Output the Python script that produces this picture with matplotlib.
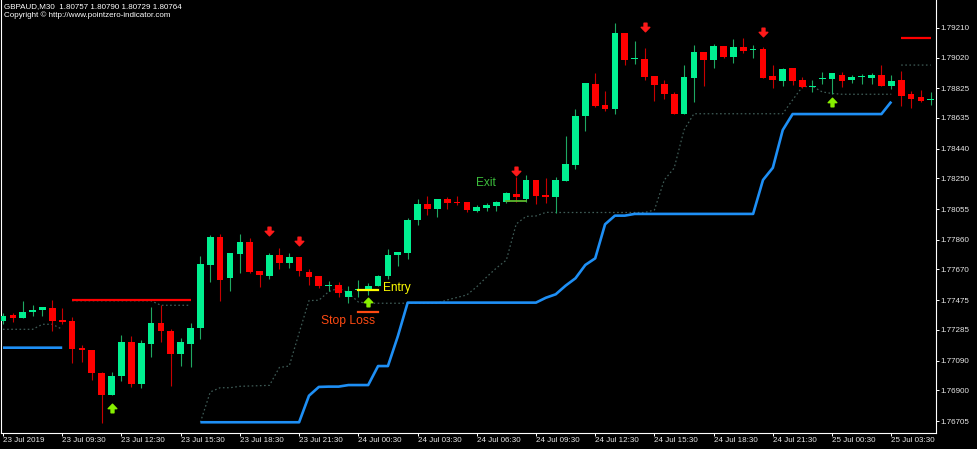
import matplotlib
matplotlib.use('Agg')
import matplotlib.pyplot as plt
import numpy as np
from matplotlib.path import Path

plt.rcParams['font.family'] = ['Liberation Sans', 'DejaVu Sans']

nan = float('nan')

# ---------------- data (GBPAUD M30) ----------------
time_labels = ['23 Jul 2019', '23 Jul 09:30', '23 Jul 12:30', '23 Jul 15:30',
               '23 Jul 18:30', '23 Jul 21:30', '24 Jul 00:30', '24 Jul 03:30',
               '24 Jul 06:30', '24 Jul 09:30', '24 Jul 12:30', '24 Jul 15:30',
               '24 Jul 18:30', '24 Jul 21:30', '25 Jul 00:30', '25 Jul 03:30']
label_every = 6

price_ticks = [1.79210, 1.79020, 1.78825, 1.78635, 1.78440, 1.78250, 1.78055,
               1.77860, 1.77670, 1.77475, 1.77285, 1.77090, 1.76900, 1.76705]

opens = [1.77342, 1.77382, 1.77363, 1.77401, 1.77412, 1.77425, 1.77348, 1.77342, 1.77170, 1.77157,
         1.77011, 1.76873, 1.76994, 1.77208, 1.76939, 1.77197, 1.77329, 1.77278, 1.77134, 1.77197,
         1.77299, 1.77701, 1.77877, 1.77618, 1.77771, 1.77845, 1.77659, 1.77630, 1.77762, 1.77713,
         1.77750, 1.77657, 1.77630, 1.77562, 1.77571, 1.77493, 1.77537, 1.77537, 1.77567, 1.77630,
         1.77760, 1.77777, 1.77985, 1.78089, 1.78055, 1.78119, 1.78098, 1.78098, 1.78043, 1.78064,
         1.78074, 1.78098, 1.78151, 1.78119, 1.78242, 1.78144, 1.78132, 1.78236, 1.78337, 1.78646,
         1.78851, 1.78718, 1.78694, 1.79176, 1.79011, 1.79013, 1.78902, 1.78850, 1.78788, 1.78660,
         1.78890, 1.79053, 1.79004, 1.79093, 1.79021, 1.79087, 1.79066, 1.79074, 1.78900, 1.78869,
         1.78951, 1.78877, 1.78834, 1.78881, 1.78885, 1.78909, 1.78877, 1.78896, 1.78890, 1.78909,
         1.78839, 1.78877, 1.78786, 1.78767, 1.78748]
highs = [1.77391, 1.77391, 1.77469, 1.77444, 1.77433, 1.77476, 1.77423, 1.77367, 1.77189, 1.77157,
         1.77019, 1.77017, 1.77253, 1.77246, 1.77221, 1.77433, 1.77444, 1.77291, 1.77236, 1.77327,
         1.77755, 1.77890, 1.77894, 1.77775, 1.77894, 1.77869, 1.77659, 1.77773, 1.77810, 1.77773,
         1.77750, 1.77673, 1.77631, 1.77596, 1.77592, 1.77567, 1.77603, 1.77582, 1.77634, 1.77798,
         1.77780, 1.77996, 1.78117, 1.78138, 1.78119, 1.78134, 1.78140, 1.78098, 1.78081, 1.78092,
         1.78106, 1.78164, 1.78257, 1.78272, 1.78242, 1.78255, 1.78261, 1.78520, 1.78692, 1.78858,
         1.78920, 1.78807, 1.79240, 1.79176, 1.79125, 1.79083, 1.78902, 1.78877, 1.78802, 1.78972,
         1.79100, 1.79053, 1.79104, 1.79093, 1.79138, 1.79146, 1.79100, 1.79085, 1.78972, 1.78951,
         1.78955, 1.78896, 1.78877, 1.78926, 1.78920, 1.78926, 1.78909, 1.78915, 1.78921, 1.78972,
         1.78909, 1.78934, 1.78807, 1.78813, 1.78799]
lows = [1.77321, 1.77338, 1.77363, 1.77376, 1.77376, 1.77280, 1.77321, 1.77074, 1.77083, 1.76966,
        1.76694, 1.76873, 1.76962, 1.76924, 1.76917, 1.77115, 1.77210, 1.76930, 1.77057, 1.77051,
        1.77227, 1.77592, 1.77471, 1.77535, 1.77646, 1.77650, 1.77559, 1.77608, 1.77673, 1.77680,
        1.77631, 1.77570, 1.77551, 1.77535, 1.77493, 1.77455, 1.77493, 1.77508, 1.77563, 1.77608,
        1.77695, 1.77737, 1.77953, 1.78017, 1.78006, 1.78055, 1.78079, 1.78034, 1.78034, 1.78043,
        1.78043, 1.78094, 1.78102, 1.78102, 1.78089, 1.78092, 1.78028, 1.78236, 1.78310, 1.78552,
        1.78703, 1.78681, 1.78662, 1.78972, 1.78979, 1.78877, 1.78745, 1.78756, 1.78660, 1.78660,
        1.78735, 1.78841, 1.78951, 1.79015, 1.78983, 1.79051, 1.79015, 1.78892, 1.78828, 1.78839,
        1.78845, 1.78824, 1.78799, 1.78850, 1.78788, 1.78834, 1.78856, 1.78851, 1.78851, 1.78839,
        1.78818, 1.78713, 1.78700, 1.78735, 1.78718]
closes = [1.77376, 1.77363, 1.77399, 1.77412, 1.77429, 1.77344, 1.77336, 1.77166, 1.77155, 1.77013,
          1.76873, 1.76992, 1.77208, 1.76943, 1.77204, 1.77329, 1.77278, 1.77134, 1.77206, 1.77297,
          1.77705, 1.77877, 1.77603, 1.77775, 1.77843, 1.77654, 1.77637, 1.77760, 1.77713, 1.77748,
          1.77662, 1.77625, 1.77566, 1.77571, 1.77518, 1.77533, 1.77546, 1.77566, 1.77630, 1.77762,
          1.77780, 1.77985, 1.78089, 1.78057, 1.78119, 1.78094, 1.78092, 1.78049, 1.78068, 1.78079,
          1.78100, 1.78155, 1.78130, 1.78242, 1.78138, 1.78134, 1.78242, 1.78342, 1.78650, 1.78858,
          1.78713, 1.78694, 1.79176, 1.79004, 1.79015, 1.78898, 1.78845, 1.78786, 1.78660, 1.78896,
          1.79055, 1.79004, 1.79093, 1.79021, 1.79087, 1.79063, 1.79074, 1.78892, 1.78875, 1.78947,
          1.78872, 1.78830, 1.78839, 1.78892, 1.78920, 1.78872, 1.78898, 1.78902, 1.78909, 1.78839,
          1.78871, 1.78775, 1.78756, 1.78743, 1.78754]

# trailing stop (solid) - long side (blue) and short side (red)
stop_long = [1.77172, 1.77172, 1.77172, 1.77172, 1.77172, 1.77172, 1.77172, nan, nan, nan,
             nan, nan, nan, nan, nan, nan, nan, nan, nan, nan,
             1.76697, 1.76697, 1.76697, 1.76697, 1.76697, 1.76697, 1.76697, 1.76697, 1.76697, 1.76697,
             1.76697, 1.76866, 1.76922, 1.76924, 1.76924, 1.76934, 1.76934, 1.76934, 1.77055, 1.77055,
             1.77244, 1.77459, 1.77459, 1.77459, 1.77459, 1.77459, 1.77459, 1.77459, 1.77459, 1.77459,
             1.77459, 1.77459, 1.77459, 1.77459, 1.77459, 1.77490, 1.77512, 1.77567, 1.77614, 1.77699,
             1.77741, 1.77958, 1.78013, 1.78013, 1.78024, 1.78024, 1.78024, 1.78024, 1.78024, 1.78024,
             1.78024, 1.78024, 1.78024, 1.78024, 1.78024, 1.78024, 1.78024, 1.78240, 1.78318, 1.78558,
             1.78660, 1.78660, 1.78660, 1.78660, 1.78660, 1.78660, 1.78660, 1.78660, 1.78660, 1.78660,
             1.78739, nan, nan, nan, nan]
stop_short = [nan, nan, nan, nan, nan, nan, nan, 1.77478, 1.77478, 1.77478,
              1.77478, 1.77478, 1.77478, 1.77478, 1.77478, 1.77478, 1.77478, 1.77478, 1.77478, 1.77478,
              nan, nan, nan, nan, nan, nan, nan, nan, nan, nan,
              nan, nan, nan, nan, nan, nan, nan, nan, nan, nan,
              nan, nan, nan, nan, nan, nan, nan, nan, nan, nan,
              nan, nan, nan, nan, nan, nan, nan, nan, nan, nan,
              nan, nan, nan, nan, nan, nan, nan, nan, nan, nan,
              nan, nan, nan, nan, nan, nan, nan, nan, nan, nan,
              nan, nan, nan, nan, nan, nan, nan, nan, nan, nan,
              nan, 1.79146, 1.79146, 1.79146, 1.79146]

# dotted trailing line - long side and short side
trail_long = [1.77289, 1.77289, 1.77289, 1.77289, 1.77321, 1.77321, 1.77289, nan, nan, nan,
              nan, nan, nan, nan, nan, nan, nan, nan, nan, nan,
              1.76697, 1.76890, 1.76917, 1.76917, 1.76926, 1.76928, 1.76930, 1.76932, 1.77046, 1.77055,
              1.77266, 1.77472, 1.77474, 1.77529, 1.77551, 1.77521, 1.77463, 1.77455, 1.77455, 1.77455,
              1.77455, 1.77455, 1.77455, 1.77455, 1.77455, 1.77476, 1.77492, 1.77508, 1.77560, 1.77622,
              1.77680, 1.77730, 1.77960, 1.78008, 1.78011, 1.78034, 1.78033, 1.78033, 1.78033, 1.78033,
              1.78033, 1.78033, 1.78033, 1.78033, 1.78033, 1.78033, 1.78049, 1.78240, 1.78316, 1.78558,
              1.78662, 1.78662, 1.78662, 1.78662, 1.78662, 1.78662, 1.78662, 1.78662, 1.78662, 1.78662,
              1.78750, 1.78834, 1.78837, 1.78801, 1.78791, 1.78786, 1.78786, 1.78786, 1.78786, 1.78786,
              1.78786, nan, nan, nan, nan]
trail_short = [nan, nan, nan, nan, nan, nan, nan, 1.77471, 1.77471, 1.77471,
               1.77471, 1.77471, 1.77471, 1.77471, 1.77471, 1.77471, 1.77442, 1.77442, 1.77442, 1.77442,
               nan, nan, nan, nan, nan, nan, nan, nan, nan, nan,
               nan, nan, nan, nan, nan, nan, nan, nan, nan, nan,
               nan, nan, nan, nan, nan, nan, nan, nan, nan, nan,
               nan, nan, nan, nan, nan, nan, nan, nan, nan, nan,
               nan, nan, nan, nan, nan, nan, nan, nan, nan, nan,
               nan, nan, nan, nan, nan, nan, nan, nan, nan, nan,
               nan, nan, nan, nan, nan, nan, nan, nan, nan, nan,
               nan, 1.78972, 1.78972, 1.78972, 1.78972]

# signal arrows (bar index, price)
sell_bars = [27, 30, 52, 65, 77]
sell_prices = [1.77913, 1.77852, 1.78297, 1.79214, 1.79183]
buy_bars = [11, 37, 84]
buy_prices = [1.76791, 1.77460, 1.78734]

# trade annotations
entry_bars = [36, 38]
entry_price = 1.77541
stop_price = 1.77397
exit_bars = [51, 53]
exit_price = 1.78104

# ---------------- figure ----------------
W, H = 977, 449
fig = plt.figure(figsize=(W / 100, H / 100), dpi=100)
fig.patch.set_facecolor('black')
ax = fig.add_axes([1 / W, 16.5 / H, 935.3 / W, 432.5 / H])
ax.set_facecolor('black')

x = np.arange(len(opens))
o = np.array(opens); c = np.array(closes); hi = np.array(highs); lo = np.array(lows)
up = c >= o

body_up = '#00f090'
body_dn = '#ff0000'
wick_up = '#1ea862'
wick_dn = '#c80000'

# indicator lines
ax.plot(x, trail_long, color='#3f5c57', lw=0.9, ls=(0, (1.3, 2.0)), zorder=1)
ax.plot(x, trail_short, color='#3f5c57', lw=0.9, ls=(0, (1.3, 2.0)), zorder=1)
ax.plot(x, stop_long, color='#1e8ff5', lw=1.9, zorder=2, solid_capstyle='butt')
ax.plot(x, stop_short, color='#ff0000', lw=1.6, zorder=2, solid_capstyle='butt')

# candles
ax.vlines(x, lo, hi, colors=np.where(up, wick_up, wick_dn), lw=0.8, zorder=3)
body_h = np.maximum(np.abs(c - o), 0.00005)
ax.bar(x, body_h, bottom=np.minimum(o, c), width=0.68,
       color=np.where(up, body_up, body_dn), linewidth=0, zorder=4)

# arrow markers
down_path = Path([(-0.17, 0.5), (0.17, 0.5), (0.17, 0.02), (0.5, 0.02), (0.0, -0.5),
                  (-0.5, 0.02), (-0.17, 0.02), (-0.17, 0.5)],
                 [Path.MOVETO] + [Path.LINETO] * 6 + [Path.CLOSEPOLY])
up_path = Path([(vx, -vy) for vx, vy in down_path.vertices], down_path.codes)
ax.plot(sell_bars, sell_prices, ls='none', marker=down_path, ms=6.2, color='#ff1a1a', zorder=5)
ax.plot(buy_bars, buy_prices, ls='none', marker=up_path, ms=6.2, color='#88f000', zorder=5)

# trade lines and labels
ax.plot(entry_bars, [entry_price, entry_price], color='#ffff00', lw=1.6, zorder=5)
ax.plot(entry_bars, [stop_price, stop_price], color='#ff4a12', lw=1.6, zorder=5)
ax.plot(exit_bars, [exit_price, exit_price], color='#5cb82e', lw=1.3, zorder=5)
ax.text(38.53, 1.77530, 'Entry', color='#ffff00', fontsize=8.6, ha='left', va='baseline')
ax.text(32.19, 1.77326, 'Stop Loss', color='#ff4a12', fontsize=8.7, ha='left', va='baseline')
ax.text(47.92, 1.78199, 'Exit', color='#3cbe3c', fontsize=8.6, ha='left', va='baseline')

# axes
ax.set_xlim(-0.2026, 94.56)
ax.set_ylim(1.766318, 1.793864)
ax.set_xticks(x[::label_every][:len(time_labels)])
ax.set_xticklabels(time_labels)
for lab in ax.get_xticklabels():
    lab.set_ha('left')
ax.yaxis.tick_right()
ax.set_yticks(price_ticks)
ax.set_yticklabels(['%.5f' % p for p in price_ticks])
ax.tick_params(axis='both', colors='white', labelcolor='#e8e8e8', labelsize=5.8,
               length=1.8, width=0.7, pad=1.3, direction='out')
for side in ['left', 'bottom', 'right']:
    ax.spines[side].set_color('white')
    ax.spines[side].set_linewidth(0.8)
ax.spines['top'].set_visible(False)

fig.text(4 / W, 1 - 2.8 / H, 'GBPAUD,M30  1.80757 1.80790 1.80729 1.80764',
         color='white', fontsize=5.8, ha='left', va='top')
fig.text(4 / W, 1 - 11.3 / H, 'Copyright \u00a9 http://www.pointzero-indicator.com',
         color='white', fontsize=5.8, ha='left', va='top')

fig.savefig('out.png', dpi=100, facecolor='black')
